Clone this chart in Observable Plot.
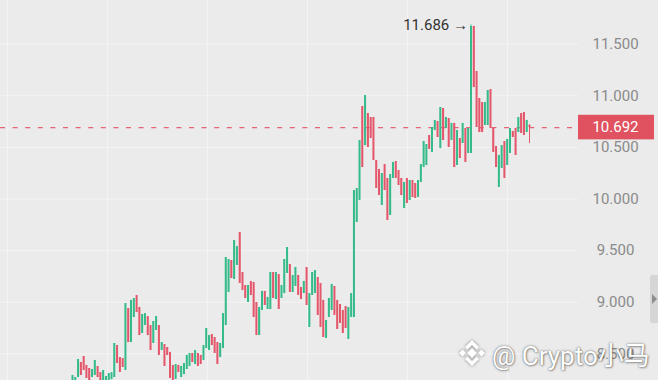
<!DOCTYPE html>
<html>
<head>
<meta charset="utf-8">
<script src="https://cdn.jsdelivr.net/npm/d3@7"></script>
<script src="https://cdn.jsdelivr.net/npm/@observablehq/plot@0.6"></script>
<style>
  html, body { margin: 0; padding: 0; background: #ebebeb; overflow: hidden; }
  #wrap { position: relative; width: 658px; height: 380px; }
  #wm { position: absolute; left: 457px; top: 336px; height: 34px; display: flex; align-items: center;
        font-family: Roboto, "Noto Sans CJK SC", sans-serif; font-size: 26px; color: #ffffff;
        text-shadow: 0 0 1px rgba(0,0,0,0.45), 0 0 3px rgba(0,0,0,0.35), 1px 1px 2px rgba(0,0,0,0.25);
        white-space: nowrap; }
  #wm svg { margin-right: 5px; filter: drop-shadow(0 0 1.5px rgba(0,0,0,0.45)); }
  #tab { position: absolute; left: 650px; top: 275px; width: 8px; height: 48px; background: #d6d6d6; border-radius: 2px 0 0 2px; }
  #tab svg { position: absolute; left: 2px; top: 19px; }
</style>
</head>
<body>
<div id="wrap"></div>
<script>
// ---- data ----
const open = [8.212,8.193,8.270,8.416,8.474,8.387,8.358,8.270,8.290,8.377,
8.319,8.241,8.222,8.241,8.250,8.270,8.580,8.464,8.454,8.338,
8.939,8.609,8.852,9.065,8.949,8.697,8.774,8.861,8.774,8.600,
8.726,8.774,8.532,8.590,8.561,8.513,8.387,8.251,8.387,8.270,
8.299,8.348,8.377,8.503,8.396,8.503,8.484,8.435,8.551,8.532,
8.687,8.658,8.609,8.464,8.551,8.774,9.094,9.404,9.220,9.356,
9.675,9.288,9.162,8.997,9.201,9.191,8.997,8.677,8.920,9.104,
8.929,8.929,9.288,9.026,9.268,9.036,9.084,9.278,9.365,9.094,
9.152,9.259,9.143,9.084,9.336,8.755,9.065,9.084,9.239,9.181,
9.017,8.648,8.852,8.920,9.152,9.017,8.978,8.920,8.958,8.639,
8.852,8.852,9.772,9.985,10.896,10.518,10.828,10.790,10.790,10.373,
10.286,9.937,10.334,10.199,9.840,10.199,10.363,10.276,10.199,9.908,
10.199,9.985,10.179,10.150,10.015,10.160,10.305,10.325,10.615,10.451,
10.664,10.751,10.489,10.877,10.683,10.780,10.567,10.732,10.325,10.586,
10.538,10.683,10.441,10.441,11.672,11.235,10.974,10.935,10.712,10.712,
11.061,10.683,10.509,10.112,10.296,10.557,10.325,10.441,10.654,10.683,
10.644,10.828,10.838,10.644,10.712];

const close = [8.290,8.270,8.445,8.290,8.338,8.261,8.241,8.348,8.435,8.270,
8.241,8.338,8.280,8.309,8.315,8.600,8.406,8.319,8.367,8.987,
8.609,9.017,9.036,8.900,8.677,8.881,8.890,8.677,8.532,8.813,
8.861,8.484,8.609,8.377,8.484,8.261,8.241,8.396,8.319,8.377,
8.406,8.484,8.503,8.416,8.532,8.377,8.396,8.580,8.745,8.677,
8.580,8.503,8.396,8.600,8.890,9.433,9.414,9.230,9.598,9.540,
9.181,9.113,9.036,9.162,9.065,8.852,8.677,8.949,9.104,8.968,
9.046,9.288,9.036,9.288,8.929,9.162,9.414,9.530,9.094,9.259,
9.336,9.065,9.026,9.201,8.968,9.084,9.288,9.307,8.871,8.755,
8.658,8.823,9.036,9.172,8.871,8.736,8.794,8.697,8.745,8.949,
9.084,10.082,10.102,10.567,10.305,11.003,10.499,10.586,10.373,10.102,
10.034,10.247,10.082,9.792,10.237,10.354,10.199,10.131,10.034,10.160,
9.956,10.179,10.015,10.005,10.179,10.334,10.557,10.528,10.480,10.693,
10.761,10.596,10.887,10.567,10.790,10.499,10.732,10.305,10.664,10.392,
10.732,10.354,10.683,11.672,11.080,10.693,10.644,10.644,10.935,11.051,
10.683,10.451,10.305,10.422,10.518,10.199,10.577,10.683,10.596,10.422,
10.790,10.635,10.615,10.761,10.692];

const high = [8.290,8.270,8.445,8.416,8.474,8.387,8.358,8.348,8.435,8.377,
8.319,8.338,8.280,8.309,8.315,8.600,8.580,8.464,8.454,8.987,
8.939,9.017,9.036,9.065,8.949,8.881,8.890,8.861,8.774,8.813,
8.861,8.774,8.609,8.590,8.561,8.513,8.387,8.396,8.387,8.377,
8.406,8.484,8.503,8.503,8.532,8.503,8.484,8.580,8.745,8.677,
8.687,8.658,8.609,8.600,8.890,9.433,9.414,9.404,9.598,9.540,
9.675,9.288,9.162,9.162,9.201,9.191,8.997,8.949,9.104,9.104,
9.046,9.288,9.288,9.288,9.268,9.162,9.414,9.530,9.365,9.259,
9.336,9.259,9.143,9.201,9.336,9.084,9.288,9.307,9.239,9.181,
9.017,8.823,9.036,9.172,9.152,9.017,8.978,8.920,8.958,8.949,
9.084,10.082,10.102,10.567,10.896,11.003,10.828,10.790,10.790,10.373,
10.286,10.247,10.334,10.199,10.237,10.354,10.363,10.276,10.199,10.160,
10.199,10.179,10.179,10.150,10.179,10.334,10.557,10.528,10.615,10.693,
10.761,10.751,10.887,10.877,10.790,10.780,10.732,10.732,10.664,10.586,
10.732,10.683,10.683,11.686,11.672,11.235,10.974,10.935,10.935,11.051,
11.061,10.683,10.509,10.422,10.518,10.557,10.577,10.683,10.654,10.683,
10.790,10.828,10.838,10.761,10.720];

const low = [8.212,8.193,8.270,8.290,8.338,8.261,8.241,8.270,8.290,8.270,
8.241,8.241,8.222,8.241,8.250,8.270,8.406,8.319,8.367,8.338,
8.609,8.609,8.852,8.900,8.677,8.697,8.774,8.677,8.532,8.600,
8.726,8.484,8.532,8.377,8.484,8.261,8.241,8.251,8.319,8.270,
8.299,8.348,8.377,8.416,8.396,8.377,8.396,8.435,8.551,8.532,
8.580,8.503,8.396,8.464,8.551,8.774,9.094,9.230,9.220,9.356,
9.181,9.113,9.036,8.997,9.065,8.852,8.677,8.677,8.920,8.968,
8.929,8.929,9.036,9.026,8.929,9.036,9.084,9.278,9.094,9.094,
9.152,9.065,9.026,9.084,8.968,8.755,9.065,9.084,8.871,8.755,
8.658,8.648,8.852,8.920,8.871,8.736,8.794,8.697,8.745,8.639,
8.852,8.852,9.772,9.985,10.305,10.518,10.499,10.586,10.373,10.102,
10.034,9.937,10.082,9.792,9.840,10.199,10.199,10.131,10.034,9.908,
9.956,9.985,10.015,10.005,10.015,10.160,10.305,10.325,10.480,10.451,
10.664,10.596,10.489,10.567,10.683,10.499,10.567,10.305,10.325,10.392,
10.538,10.354,10.441,10.441,11.080,10.693,10.644,10.644,10.712,10.712,
10.683,10.451,10.305,10.112,10.296,10.199,10.325,10.441,10.596,10.422,
10.644,10.635,10.615,10.644,10.538];

const yTicks = [8.5, 9.0, 9.5, 10.0, 10.5, 11.0, 11.5];
const timeGrid = [-23.3, 12.6, 48.4, 84.3, 120.2, 156.1];
const lastPrice = 10.692;
const peak = [{i: 143, v: 11.686, label: "11.686 →"}];

// ---- styles ----
const GREEN = "#35bb8a";
const RED = "#e4566a";
const fmt = d3.format(".3f");
const idx = d3.range(open.length);
const dir = i => close[i] >= open[i] ? "up" : "down";

const chart = Plot.plot({
  width: 658,
  height: 380,
  marginLeft: 0,
  marginRight: 80,
  marginTop: 0,
  marginBottom: 0,
  style: {background: "#ebebeb", fontFamily: "Roboto, sans-serif", fontSize: "15px", overflow: "hidden"},
  x: {type: "linear", domain: [0, open.length - 1], range: [72, 529], axis: null},
  y: {domain: [8.2413, 11.9234], axis: null},
  color: {domain: ["up", "down"], range: [GREEN, RED]},
  marks: [
    Plot.gridY({ticks: yTicks, stroke: "#f4f4f4", strokeOpacity: 1}),
    Plot.gridX({ticks: timeGrid, stroke: "#f4f4f4", strokeOpacity: 1}),
    Plot.ruleY([lastPrice], {stroke: RED, strokeWidth: 1.2, strokeDasharray: "5,7.6", strokeOpacity: 0.9}),
    Plot.ruleX(idx, {x: i => i, y1: i => low[i], y2: i => high[i], stroke: dir, strokeWidth: 1}),
    Plot.ruleX(idx, {x: i => i, y1: i => open[i], y2: i => close[i], stroke: dir, strokeWidth: 2}),
    Plot.text(peak, {x: "i", y: "v", text: "label", textAnchor: "end", dx: -3, fill: "#333", fontSize: 15}),
    Plot.axisY({ticks: yTicks, anchor: "right", tickSize: 0, tickPadding: 37, textAnchor: "middle",
                tickFormat: fmt, fill: "#8a8a8a", fontSize: 15, label: null})
  ]
});

// current-price label, positioned with the chart's own y scale
const yy = chart.scale("y").apply(lastPrice);
const svg = d3.select(chart);
const plate = svg.append("g");
plate.append("rect")
  .attr("x", 578).attr("y", yy - 12.3).attr("width", 76).attr("height", 24.6)
  .attr("fill", "#e0525f");
plate.append("text")
  .attr("x", 615.5).attr("y", yy).attr("dy", "0.34em")
  .attr("text-anchor", "middle").attr("fill", "#ffffff")
  .attr("font-family", "Roboto, sans-serif").attr("font-size", 15)
  .text(fmt(lastPrice));

const wrap = document.getElementById("wrap");
wrap.appendChild(chart);

// watermark
const wm = document.createElement("div");
wm.id = "wm";
wm.innerHTML = `<svg width="30" height="30" viewBox="0 0 30 30">
  <g fill="white">
    <rect x="11.5" y="11.5" width="7" height="7" transform="rotate(45 15 15)"/>
    <rect x="3" y="12.5" width="5" height="5" transform="rotate(45 5.5 15)"/>
    <rect x="22" y="12.5" width="5" height="5" transform="rotate(45 24.5 15)"/>
    <path d="M15 2 L22 9 L19.5 11.5 L15 7 L10.5 11.5 L8 9 Z"/>
    <path d="M15 28 L22 21 L19.5 18.5 L15 23 L10.5 18.5 L8 21 Z"/>
  </g></svg><span>@ Crypto小马</span>`;
wrap.appendChild(wm);

// right edge tab
const tab = document.createElement("div");
tab.id = "tab";
tab.innerHTML = `<svg width="6" height="10" viewBox="0 0 6 10"><path d="M0 0 L5 5 L0 10 Z" fill="#8d8d8d"/></svg>`;
wrap.appendChild(tab);
</script>
</body>
</html>
